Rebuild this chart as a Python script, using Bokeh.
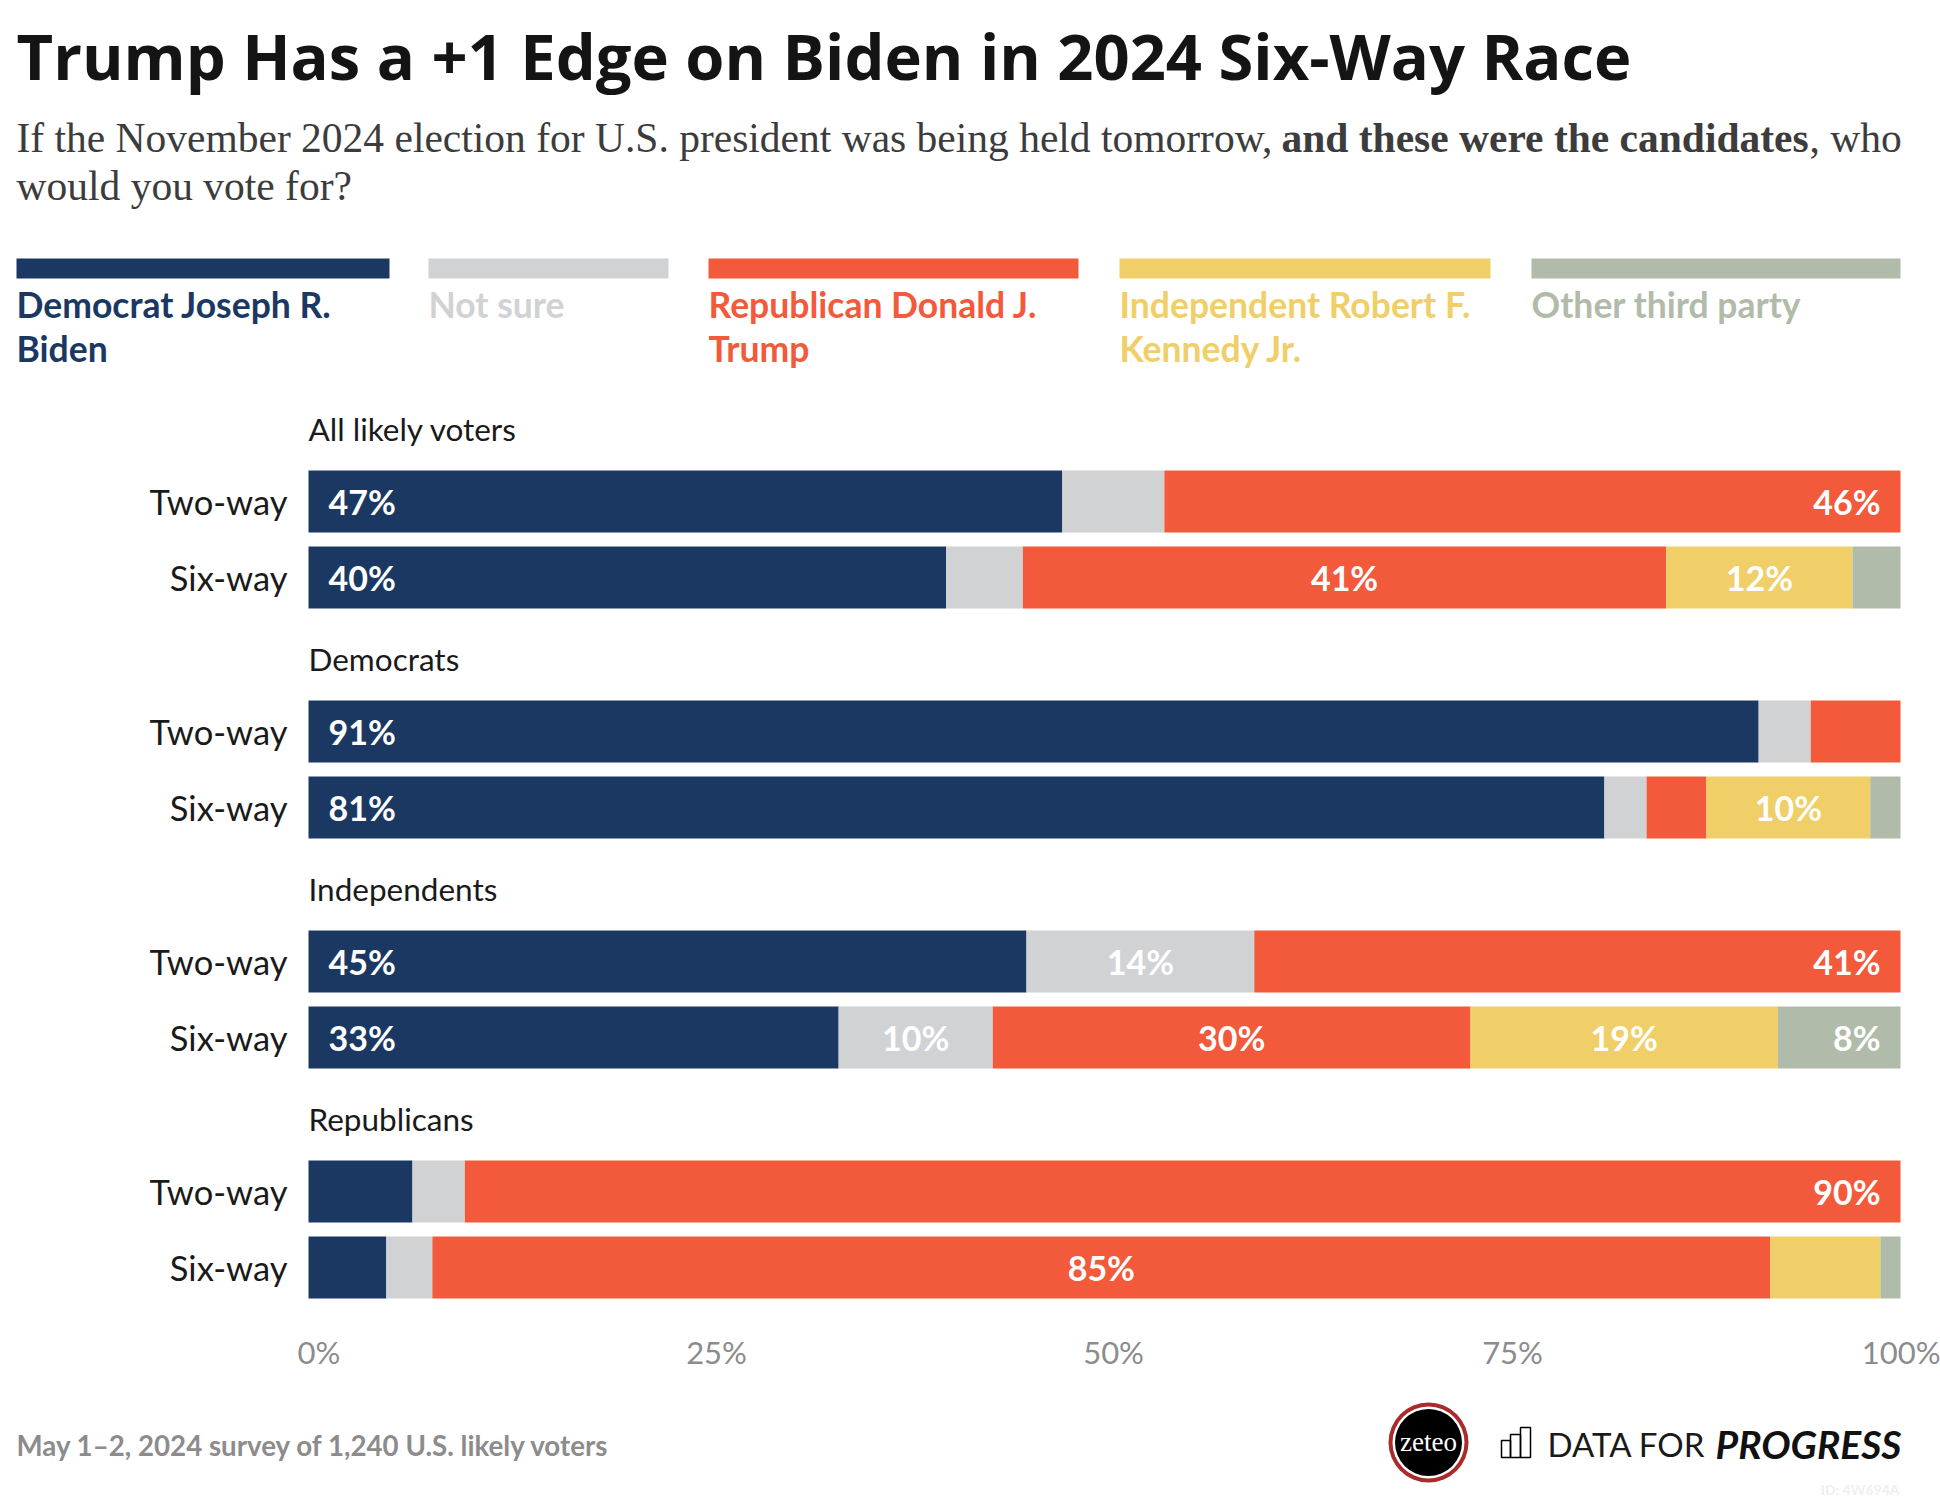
import numpy as np
from bokeh.embed import file_html
from bokeh.resources import INLINE
from bokeh.plotting import figure
from bokeh.models import ColumnDataSource, FixedTicker, LinearAxis, Range1d
from bokeh.core.properties import value

groups = ["All likely voters", "Democrats", "Independents", "Republicans"]
races = ["Two-way", "Six-way"]

series_names = ["Democrat Joseph R. Biden", "Not sure", "Republican Donald J. Trump",
                "Independent Robert F. Kennedy Jr.", "Other third party"]
colors = ["#1B3863", "#D1D2D4", "#F3593B", "#F0CF68", "#B1BBA9"]

# one row per group/race pair, in reading order
biden = [47.35, 40.06, 91.09, 81.40, 45.10, 33.30, 6.53, 4.89]
not_sure = [6.41, 4.81, 3.27, 2.65, 14.31, 9.68, 3.29, 2.89]
trump = [46.24, 40.42, 5.64, 3.76, 40.59, 30.01, 90.18, 84.04]
kennedy = [0.0, 11.69, 0.0, 10.29, 0.0, 19.31, 0.0, 6.92]
other = [0.0, 3.02, 0.0, 1.90, 0.0, 7.70, 0.0, 1.26]

biden_labels = ["47%", "40%", "91%", "81%", "45%", "33%", "", ""]
not_sure_labels = ["", "", "", "", "14%", "10%", "", ""]
trump_labels = ["46%", "41%", "", "", "41%", "30%", "90%", "85%"]
kennedy_labels = ["", "12%", "", "10%", "", "19%", "", ""]
other_labels = ["", "", "", "", "", "8%", "", ""]

tick_values = [0, 25, 50, 75, 100]
tick_labels = ["0%", "25%", "50%", "75%", "100%"]

title = "Trump Has a +1 Edge on Biden in 2024 Six-Way Race"
footer = "May 1\u20132, 2024 survey of 1,240 U.S. likely voters"

SANS = "Lato"
HEAD = "Open Sans"
SERIF = "Liberation Serif"
W, H = 1940, 1498
BAR_LEFT, BAR_RIGHT = 308, 1900
PCT = (BAR_RIGHT - BAR_LEFT) / 100

# The plot frame fills the page; y is measured downward in page pixels.
x_range = Range1d(-BAR_LEFT / PCT, (W - BAR_LEFT) / PCT)
y_range = Range1d(H, 0)
row_y = [501 + 230 * g + 76 * r for g in range(len(groups)) for r in range(len(races))]
row_race = [r for _ in groups for r in races]
head_y = [501 + 230 * g - 73 for g in range(len(groups))]

p = figure(width=W, height=H, x_range=x_range, y_range=y_range,
           output_backend="svg", toolbar_location=None, x_axis_location=None, y_axis_location=None,
           min_border_left=0, min_border_right=0, min_border_top=0, min_border_bottom=0)
p.outline_line_color = None
p.background_fill_color = "white"
p.grid.visible = False


def fx(x):
    return (x - BAR_LEFT) / PCT


# Bars
rows = [biden, not_sure, trump, kennedy, other]
cum = np.zeros(len(row_y))
rows_labels = [biden_labels, not_sure_labels, trump_labels, kennedy_labels, other_labels]
lab_x, lab_y, lab_t, lab_off, lab_al = [], [], [], [], []
for vals, col, labs in zip(rows, colors, rows_labels):
    vals = np.array(vals)
    left, right = cum.copy(), cum + vals
    keep = vals > 0
    src = ColumnDataSource(dict(y=np.array(row_y)[keep], left=left[keep], right=right[keep]))
    p.hbar(y="y", left="left", right="right", height=62, source=src, fill_color=col, line_color=None)
    for i, t in enumerate(labs):
        if not t:
            continue
        lab_y.append(row_y[i]); lab_t.append(t)
        if left[i] == 0:
            lab_x.append(0.0); lab_off.append(20); lab_al.append("left")
        elif right[i] >= 99.99:
            lab_x.append(100.0); lab_off.append(-20); lab_al.append("right")
        else:
            lab_x.append((left[i] + right[i]) / 2); lab_off.append(0); lab_al.append("center")
    cum = right

p.text(x="x", y="y", text="t", x_offset="o", y_offset=0, text_align="a", text_baseline="middle",
       source=ColumnDataSource(dict(x=lab_x, y=lab_y, t=lab_t, o=lab_off, a=lab_al)),
       text_color="white", text_font=value(SANS), text_font_style="bold", text_font_size="34px")

# Group headings
p.text(x=[0] * len(groups), y=head_y, text=groups,
       text_baseline="middle", text_color="#1a1a1a", text_font=value(SANS), text_font_size="31.5px")

# Axes
xa = LinearAxis(fixed_location=1332, axis_line_color=None, major_tick_line_color=None, minor_tick_line_color=None,
                major_tick_out=0, major_tick_in=0,
                major_label_text_color="#8C8C8C", major_label_text_font=SANS,
                major_label_text_font_size="31px", major_label_standoff=0)
shifts = [0.66, 0.63, 0.57, 0.63, 0.19]
shown = [v + s for v, s in zip(tick_values, shifts)]
xa.ticker = FixedTicker(ticks=shown)
xa.major_label_overrides = {v: t for v, t in zip(shown, tick_labels)}
p.add_layout(xa, "below")

ya = LinearAxis(fixed_location=0, axis_line_color=None, major_tick_line_color=None, minor_tick_line_color=None,
                major_tick_out=0, major_tick_in=0,
                major_label_text_color="#1a1a1a", major_label_text_font=SANS,
                major_label_text_font_size="34.5px", major_label_standoff=21)
ya.ticker = FixedTicker(ticks=row_y)
ya.major_label_overrides = {v: t for v, t in zip(row_y, row_race)}
p.add_layout(ya, "left")


def label(text, x, y, size, color="#1a1a1a", font=SANS, style="normal", align="left"):
    p.text(x=[fx(x)], y=[y], text=[text], text_font=value(font), text_font_size=f"{size}px",
           text_color=color, text_font_style=style, text_align=align, text_baseline="middle")


def box(l, r, t, b, fill=None, line=None, lw=0):
    p.quad(left=[fx(l)], right=[fx(r)], top=[t], bottom=[b], fill_color=fill, line_color=line, line_width=lw)


def disc(cx, cy, r, color):
    p.scatter(x=[fx(cx)], y=[cy], size=2 * r, marker="circle", fill_color=color, line_color=None)


# Title and subtitle
label(title, 16, 55, 63.3, style="bold", color="#141414", font=HEAD)
label("If the November 2024 election for U.S. president was being held tomorrow,", 16, 137, 41.5, "#3c3c3c", SERIF)
label("and these were the candidates", 1281, 137, 41.5, "#3c3c3c", SERIF, "bold")
label(", who", 1809, 137, 41.5, "#3c3c3c", SERIF)
label("would you vote for?", 16, 185, 41.5, "#3c3c3c", SERIF)

# Legend
legend_spans = [(16, 389), (428, 668), (708, 1078), (1119, 1490), (1531, 1900)]
legend_lines = [["Democrat Joseph R.", "Biden"], ["Not sure"], ["Republican Donald J.", "Trump"],
                ["Independent Robert F.", "Kennedy Jr."], ["Other third party"]]
for (l, r), c, lines in zip(legend_spans, colors, legend_lines):
    box(l, r, 258, 278, fill=c)
    for i, t in enumerate(lines):
        label(t, l, 304 + 44 * i, 35.5, c, style="bold")

# Footer
label(footer, 16, 1445, 27.7, "#8C8C8C", style="bold")
label("ID: 4W694A", 1899, 1489, 14, "#EFEFEF", align="right", style="bold")

# Logos
disc(1428, 1442, 40, "#A92B2B")
disc(1428, 1442, 36, "white")
disc(1428, 1442, 33.5, "black")
label("zeteo", 1428, 1441, 27, "white", SERIF, align="center")
box(1501, 1510, 1440, 1457, line="black", lw=1.5)
box(1510, 1520, 1434, 1457, line="black", lw=1.5)
box(1520, 1530, 1427, 1457, line="black", lw=1.5)
label("DATA FOR", 1547, 1443, 33, "#1a1a1a")
label("PROGRESS", 1715, 1443, 39, "#111111", style="bold italic")

open("out.html", "w").write(file_html(p, INLINE))
